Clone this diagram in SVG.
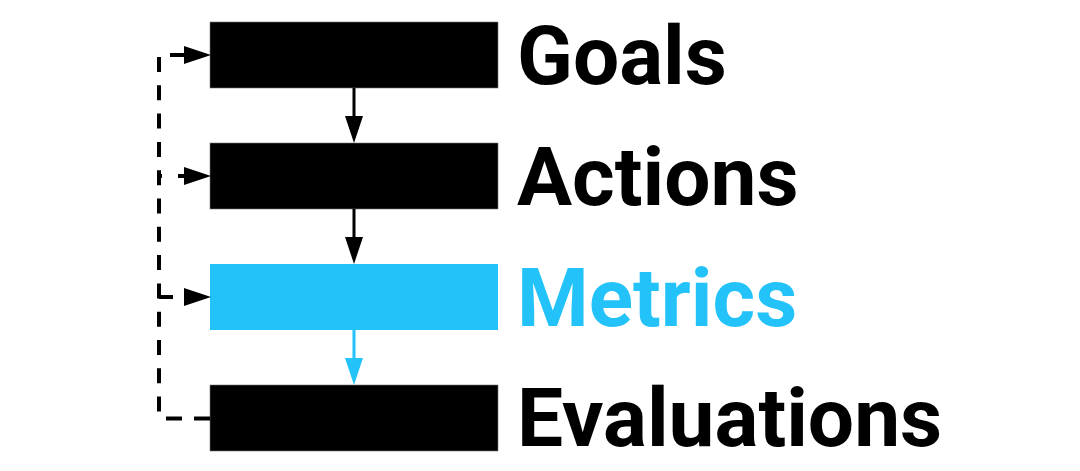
<svg xmlns="http://www.w3.org/2000/svg" width="1080" height="471" viewBox="0 0 1080 471">
<style>
.box{fill:#000;stroke:#777;stroke-width:0.6}
.blue{fill:#23C3FA;stroke:none}
.lbl{font-family:Roboto,"Noto Sans","Liberation Sans",sans-serif;font-weight:700;font-size:82px;fill:#000}
.lbl.b{fill:#23C3FA}
.flow{stroke:#000;stroke-width:3;fill:none}
.flow.b{stroke:#23C3FA}
.dash{stroke:#000;stroke-width:4;fill:none}
</style>
<defs>
<marker id="ah" markerUnits="userSpaceOnUse" markerWidth="28" markerHeight="20" refX="0" refY="9" orient="auto" viewBox="0 0 28 20">
<path d="M0,0 L27,9 L0,18 Z" fill="#000"/>
</marker>
<marker id="ahb" markerUnits="userSpaceOnUse" markerWidth="28" markerHeight="20" refX="0" refY="9" orient="auto" viewBox="0 0 28 20">
<path d="M0,0 L27,9 L0,18 Z" fill="#23C3FA"/>
</marker>
</defs>
<g id="goals">
<rect class="box" x="210" y="22" width="288" height="66"/>
<text class="lbl" x="517" y="84">Goals</text>
</g>
<g id="actions">
<rect class="box" x="210" y="143" width="288" height="66"/>
<text class="lbl" x="517" y="205">Actions</text>
</g>
<g id="metrics">
<rect class="blue" x="210" y="264" width="288" height="66"/>
<text class="lbl b" x="517" y="326">Metrics</text>
</g>
<g id="evaluations">
<rect class="box" x="210" y="385" width="288" height="66"/>
<text class="lbl" x="517" y="446">Evaluations</text>
</g>
<g id="connectors">
<path class="flow" d="M354,88 V116" marker-end="url(#ah)"/>
<path class="flow" d="M354,209 V237" marker-end="url(#ah)"/>
<path class="flow b" d="M354,330 V358" marker-end="url(#ahb)"/>
<path class="dash" d="M210,418.5 H194 M182,418.5 H166"/>
<path class="dash" d="M159,57 V412" stroke-dasharray="15 13.3"/>
<path class="dash" d="M170,55 H184" marker-end="url(#ah)"/>
<path class="dash" d="M157,176 H162 M178,176 H184" marker-end="url(#ah)"/>
<path class="dash" d="M159,297 H173 M184,297 H184" marker-end="url(#ah)"/>
</g>
</svg>
